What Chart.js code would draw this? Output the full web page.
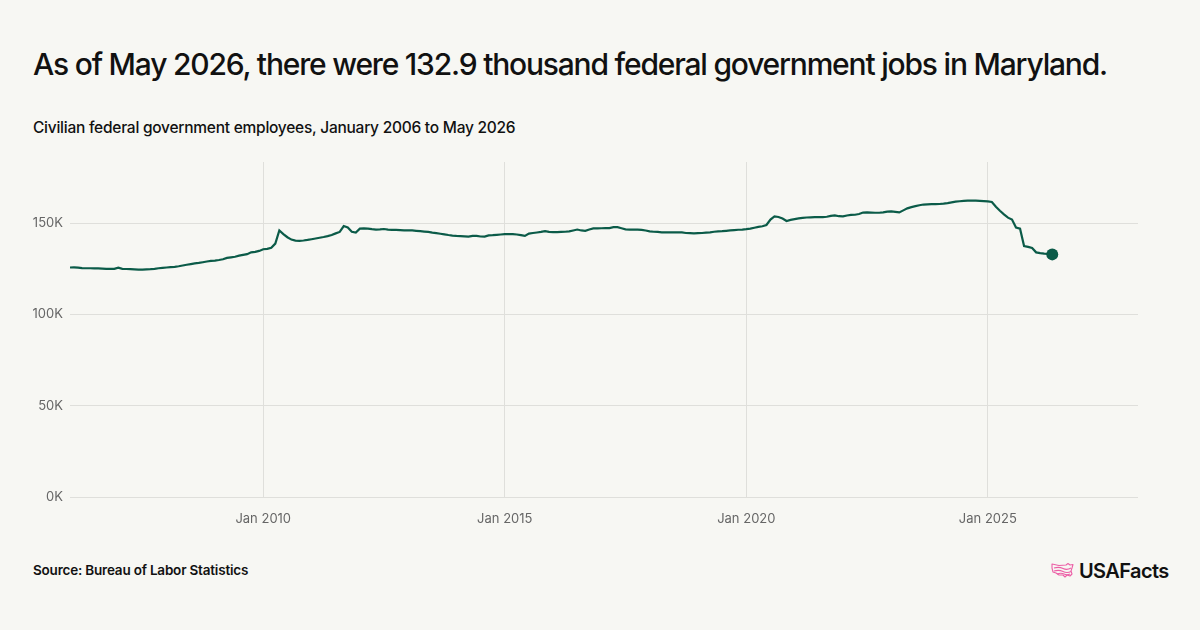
<!DOCTYPE html>
<html>
<head>
<meta charset="utf-8">
<script src="https://cdn.jsdelivr.net/npm/chart.js@4/dist/chart.umd.min.js"></script>
<style>
  html, body { margin: 0; padding: 0; }
  body { width: 1200px; height: 630px; background: #f7f7f3; position: relative; overflow: hidden; font-family: Inter, "Noto Sans", sans-serif; color: #111; }
  #title { position: absolute; left: 33px; top: 46px; font-size: 30px; font-weight: 500; letter-spacing: -1.2px; white-space: nowrap; }
  #subtitle { position: absolute; left: 33px; top: 118px; font-size: 15.5px; font-weight: 500; letter-spacing: -0.25px; white-space: nowrap; }
  #source { position: absolute; left: 33px; top: 562px; font-size: 13.5px; font-weight: 600; letter-spacing: -0.2px; }
  #logo { position: absolute; left: 1051px; top: 559px; display: flex; align-items: center; }
  #logo span { font-size: 20px; font-weight: 600; letter-spacing: -0.6px; margin-left: 4px; }
  #wrap { position: absolute; left: 0; top: 156px; width: 1160px; height: 381px; }
</style>
</head>
<body>
<div id="title">As of May 2026, there were 132.9 thousand federal government jobs in Maryland.</div>
<div id="subtitle">Civilian federal government employees, January 2006 to May 2026</div>
<div id="wrap"><canvas id="chart"></canvas></div>
<div id="source">Source: Bureau of Labor Statistics</div>
<div id="logo">
  <svg width="24" height="18" viewBox="0 0 24 18" fill="none" stroke="#ec5fa6" stroke-width="1.1" stroke-linejoin="round">
    <path d="M1 2 L8 3.5 L15 3 L17 1.5 L19 3 L22 2.5 L21 6 L20 9 L21 12 L19 14 L16 13 L14 15 L12 13 L8 13 L5 11 L2 10 L1 6 Z"/>
    <path d="M3 6 Q8 4.5 12 6.5 T20 6"/>
    <path d="M3 9 Q8 7.5 12 9.5 T20 9.5"/>
    <path d="M6 12 Q10 10.5 13 12 T19 12"/>
  </svg>
  <span>USAFacts</span>
</div>
<script>
// Civilian federal government employees in Maryland, thousands, monthly from Jan 2006
const startYear = 2006;
const employment = [
  125.7, 125.8, 125.6, 125.4, 125.3, 125.3, 125.2, 125.2, 125.1, 125.0, 125.0, 125.0, // 2006
  125.6, 125.0, 124.9, 124.8, 124.7, 124.6, 124.6, 124.7, 124.8, 125.0, 125.3, 125.5, // 2007
  125.7, 125.9, 126.1, 126.4, 126.8, 127.2, 127.6, 128.0, 128.2, 128.6, 129.0, 129.3, // 2008
  129.5, 129.8, 130.2, 131.0, 131.3, 131.6, 132.2, 132.6, 133.0, 134.0, 134.3, 134.8, // 2009
  135.7, 135.9, 136.5, 138.8, 146.0, 144.0, 142.3, 141.0, 140.4, 140.3, 140.5, 140.8, // 2010
  141.2, 141.6, 142.0, 142.4, 142.9, 143.5, 144.4, 145.2, 148.4, 147.6, 145.3, 144.9, // 2011
  147.0, 147.1, 147.0, 146.7, 146.5, 146.6, 146.8, 146.5, 146.3, 146.3, 146.2, 146.1, // 2012
  146.0, 146.0, 145.8, 145.6, 145.4, 145.2, 144.8, 144.5, 144.2, 143.9, 143.5, 143.2, // 2013
  143.0, 142.9, 142.8, 142.6, 143.0, 143.0, 142.7, 142.6, 143.3, 143.4, 143.6, 143.8, // 2014
  144.0, 144.0, 144.0, 143.8, 143.4, 143.0, 144.3, 144.6, 144.9, 145.2, 145.6, 145.2, // 2015
  145.1, 145.1, 145.2, 145.3, 145.5, 146.0, 146.5, 146.0, 145.8, 146.5, 147.1, 147.1, // 2016
  147.2, 147.3, 147.3, 147.8, 147.8, 147.2, 146.6, 146.5, 146.5, 146.5, 146.3, 146.0, // 2017
  145.5, 145.3, 145.2, 145.0, 144.9, 144.9, 145.0, 144.9, 144.9, 144.6, 144.5, 144.4, // 2018
  144.5, 144.6, 144.8, 145.0, 145.3, 145.5, 145.6, 145.8, 146.0, 146.2, 146.4, 146.5, // 2019
  146.7, 147.0, 147.5, 148.0, 148.3, 149.0, 152.0, 153.7, 153.4, 152.5, 151.2, 151.8, // 2020
  152.2, 152.6, 152.9, 153.1, 153.2, 153.3, 153.3, 153.3, 153.5, 154.0, 154.3, 153.8, // 2021
  153.7, 154.2, 154.5, 154.6, 155.0, 155.8, 155.9, 155.8, 155.7, 155.7, 155.9, 156.3, // 2022
  156.4, 156.2, 155.9, 157.0, 158.1, 158.8, 159.3, 159.8, 160.2, 160.3, 160.4, 160.4, // 2023
  160.5, 160.7, 161.0, 161.4, 161.8, 162.0, 162.2, 162.3, 162.3, 162.3, 162.2, 162.1, // 2024
  161.9, 161.6, 159.0, 156.8, 154.8, 153.0, 152.0, 147.6, 147.0, 137.5, 137.0, 136.4, // 2025
  134.0, 133.6, 133.3, 133.1, 132.9                                                   // 2026
];
const tickYears = [2010, 2015, 2020, 2025];
const yTicks = [0, 50, 100, 150];

const points = employment.map((v, i) => ({ x: i, y: v }));
const lastIndex = employment.length - 1;
const green = '#0b5b48';

new Chart(document.getElementById('chart'), {
  type: 'line',
  data: {
    datasets: [{
      data: points,
      borderColor: green,
      backgroundColor: green,
      borderWidth: 2.2,
      tension: 0,
      pointRadius: ctx => ctx.dataIndex === lastIndex ? 6 : 0,
      pointHoverRadius: 0,
      pointBorderWidth: 0
    }]
  },
  options: {
    responsive: true,
    maintainAspectRatio: false,
    animation: false,
    layout: { padding: { left: 0, right: 22, top: 0, bottom: 0 } },
    plugins: { legend: { display: false }, tooltip: { enabled: false } },
    scales: {
      x: {
        type: 'linear',
        min: 0,
        max: 265.3,
        afterBuildTicks: axis => { axis.ticks = tickYears.map(y => ({ value: (y - startYear) * 12 })); },
        afterFit: axis => { axis.height = 40; axis.paddingLeft = 0; axis.paddingRight = 0; },
        grid: { color: '#dfdfdb', drawTicks: false, lineWidth: 1 },
        border: { display: false },
        ticks: {
          padding: 14,
          color: '#666',
          font: { family: 'Inter', size: 13 },
          maxRotation: 0,
          callback: v => 'Jan ' + (startYear + Math.round(v / 12))
        }
      },
      y: {
        min: 0,
        max: 183.5,
        afterBuildTicks: axis => { axis.ticks = yTicks.map(v => ({ value: v })); },
        afterFit: axis => { axis.width = 70; axis.paddingTop = 0; axis.paddingBottom = 0; },
        grid: { color: '#dfdfdb', drawTicks: false, lineWidth: 1 },
        border: { display: false },
        ticks: {
          padding: 7,
          color: '#666',
          font: { family: 'Inter', size: 13 },
          callback: v => v + 'K'
        }
      }
    }
  }
});
</script>
</body>
</html>
